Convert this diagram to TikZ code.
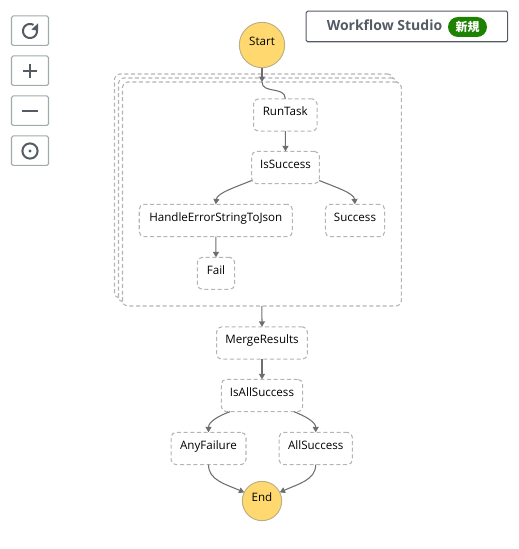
\documentclass[tikz,border=0pt]{standalone}
\usepackage{fontspec}
\setmainfont{Open Sans}
\newfontfamily\cjkfont{Noto Sans CJK JP}
\usetikzlibrary{arrows.meta}
\definecolor{ink}{HTML}{545B64}
\definecolor{edgec}{HTML}{6E6E6E}
\definecolor{dashc}{HTML}{B4B4B4}
\definecolor{btn}{HTML}{A0ABAB}
\definecolor{startc}{HTML}{FFD96F}
\definecolor{ringc}{HTML}{B9AE86}
\definecolor{badge}{HTML}{1D8102}
\tikzset{
  x=0.75pt,y=-0.75pt,
  txt/.style={font=\fontsize{8.7}{11}\selectfont,text=black,inner sep=0pt,outer sep=0pt,text height=12.6pt,text depth=11.4pt},
  state/.style={txt,draw=dashc,line width=0.8pt,dash pattern=on 3pt off 2pt,rounded corners=3.75pt,fill=white},
  mapbox/.style={state,minimum width=209.1pt,minimum height=168pt,text height=0pt,text depth=0pt},
  term/.style={txt,circle,draw=ringc,line width=0.7pt,fill=startc},
  conn/.style={draw=edgec,line width=0.8pt,-{Triangle[length=4pt,width=4.4pt]}},
  connplain/.style={draw=edgec,line width=0.8pt},
  toolbtn/.style={draw=btn,line width=0.8pt,rounded corners=1.2pt,minimum width=27.75pt,minimum height=22.1pt,inner sep=0pt,outer sep=0pt},
  icon/.style={draw=ink,line width=1.5pt}
}
\begin{document}
\begin{tikzpicture}
\useasboundingbox (0,0) rectangle (518,549);
% toolbar
\node[toolbtn] (reload) at (30,30.7) {};
\node[toolbtn] (zoomin) at (30,70.7) {};
\node[toolbtn] (zoomout) at (30,110.7) {};
\node[toolbtn] (center) at (30,150.7) {};
\draw[icon] plot[domain=-8:300,samples=50,smooth] ({30+7*cos(\x)},{31+7*sin(\x)});
\fill[ink] (38.2,23.2) -- (38.2,30.8) -- (31.4,29.6) -- cycle;
\draw[icon] (23,71) -- (37,71) (30,64) -- (30,78);
\draw[icon] (22,111) -- (38,111);
\draw[icon] (30,151) circle[radius=5.7pt];
\fill[ink] (30,151) circle[radius=1.3pt];
% header button
\node[draw=ink,line width=0.8pt,rounded corners=1.2pt,minimum width=151.2pt,minimum height=23pt,inner sep=0pt,outer sep=0pt] (studio) at (406.9,26.4) {};
\node[font=\fontsize{10.5}{12}\selectfont\bfseries,text=ink,inner sep=0pt,anchor=base] (studiotext) at (384.5,30.5) {Workflow Studio};
\node[fill=badge,rounded corners=7.5pt,minimum width=29.2pt,minimum height=15pt,inner sep=0pt,outer sep=0pt,text=white,font=\cjkfont\fontsize{9}{10}\selectfont\bfseries] (badgen) at (467.5,27) {新規};
% map stack
\node[mapbox] (mapa) at (253.9,186) {};
\node[mapbox] (mapb) at (257.9,190) {};
\node[mapbox] (map) at (261.9,194) {};
% states
\node[term,minimum size=34pt] (Start) at (262,45) {Start};
\node[state,minimum width=47.6pt,minimum height=24.3pt] (RunTask) at (285.3,115) {RunTask};
\node[state,minimum width=50.7pt,minimum height=24.3pt] (IsSuccess) at (285.5,167.5) {IsSuccess};
\node[state,minimum width=114.8pt,minimum height=24.3pt] (Handle) at (215.8,220.5) {HandleErrorStringToJson};
\node[state,minimum width=44.5pt,minimum height=24.3pt] (Success) at (355,220.5) {Success};
\node[state,minimum width=28pt,minimum height=24pt] (Fail) at (216,273.3) {Fail};
\node[state,minimum width=68pt,minimum height=24.3pt] (Merge) at (262,343) {MergeResults};
\node[state,minimum width=61pt,minimum height=24.3pt] (IsAll) at (262,395.5) {IsAllSuccess};
\node[state,minimum width=56.2pt,minimum height=24.3pt] (Any) at (208.5,448.5) {AnyFailure};
\node[state,minimum width=55pt,minimum height=24.3pt] (AllS) at (315.7,448.5) {AllSuccess};
\node[term,minimum size=29.5pt] (End) at (262,501) {End};
% connectors
\coordinate (mapin) at (262,82);
\draw[conn] (Start.south) -- (mapin);
\draw[connplain] (mapin) .. controls (262,94) and (285.3,86) .. (RunTask.north);
\draw[conn] (RunTask.south) -- (IsSuccess.north);
\draw[conn] ([yshift=2.4pt]IsSuccess.south west) .. controls (236,187) and (217,193) .. (Handle.north);
\draw[conn] ([yshift=2.4pt]IsSuccess.south east) .. controls (335,187) and (354,193) .. (Success.north);
\draw[conn] (Handle.south) -- (Fail.north);
\draw[conn] (map.south) -- (Merge.north);
\draw[conn] (Merge.south) -- (IsAll.north);
\draw[conn] ([xshift=6.5pt]IsAll.south west) .. controls (218,416) and (208.5,422) .. (Any.north);
\draw[conn] ([xshift=-6.5pt]IsAll.south east) .. controls (305,416) and (315.7,422) .. (AllS.north);
\draw[conn] (Any.south) .. controls (208.5,480) and (225,484) .. (End.154);
\draw[conn] (AllS.south) .. controls (315.7,480) and (298,484) .. (End.26);
\end{tikzpicture}
\end{document}
